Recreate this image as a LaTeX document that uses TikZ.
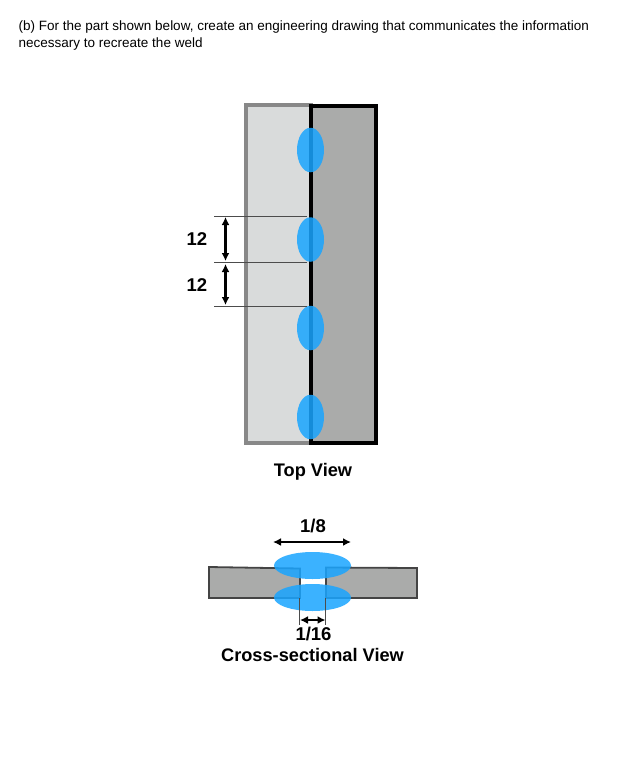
\documentclass[tikz,border=0pt]{standalone}
\usepackage{fontspec}
\setmainfont{Liberation Sans}
\usetikzlibrary{arrows.meta,shapes.geometric}
\definecolor{weldblue}{RGB}{25,165,255}
\definecolor{lightplate}{RGB}{217,219,219}
\definecolor{darkplate}{RGB}{170,171,170}
\definecolor{lightedge}{RGB}{136,136,136}
\definecolor{sectionedge}{RGB}{68,68,68}
\tikzset{
    weld/.style={ellipse,fill=weldblue,fill opacity=0.85,inner sep=0pt},
    dimline/.style={draw=black!70,line width=1pt},
    dimarrow/.style={{Latex[length=8pt,width=8pt]}-{Latex[length=8pt,width=8pt]},line width=2.4pt},
    dimlabel/.style={font=\fontsize{18.5}{20}\selectfont\bfseries},
    viewlabel/.style={font=\fontsize{18.2}{20}\selectfont\bfseries}
}
\begin{document}
\begin{tikzpicture}[x=1pt,y=-1pt]
        \useasboundingbox (0,0) rectangle (626,766);
        \node[anchor=north west,align=left,inner sep=0pt,font=\fontsize{13.5}{17}\selectfont] (question) at (18.5,20.5) {(b) For the part shown below, create an engineering drawing that communicates the information\\necessary to recreate the weld};
        % top view
        \draw[fill=lightplate,draw=lightedge,line width=4pt] (246,105) rectangle (311,442.5);
        \draw[fill=darkplate,draw=black,line width=4pt] (311,106) rectangle (376,442.5);
        \foreach \name/\ypos in {weldA/150,weldB/239.5,weldC/328,weldD/417}{
            \node[weld,minimum width=27pt,minimum height=44.5pt] (\name) at (310.5,\ypos) {};
        }
        \coordinate (tickA) at (214,216.5);
        \coordinate (tickB) at (214,262.3);
        \coordinate (tickC) at (214,306);
        \coordinate (tickAend) at (307,216.5);
        \coordinate (tickBend) at (307,262.3);
        \coordinate (tickCend) at (307,306);
        \draw[dimline] (tickA) -- (tickAend);
        \draw[dimline] (tickB) -- (tickBend);
        \draw[dimline] (tickC) -- (tickCend);
        \coordinate (arrowAtop) at (225.5,217);
        \coordinate (arrowAbot) at (225.5,261);
        \coordinate (arrowBtop) at (225.5,264);
        \coordinate (arrowBbot) at (225.5,305);
        \draw[dimarrow] (arrowAtop) -- (arrowAbot);
        \draw[dimarrow] (arrowBtop) -- (arrowBbot);
        \node[dimlabel] (pitchA) at (197,239) {12};
        \node[dimlabel] (pitchB) at (197,285) {12};
        \node[viewlabel] (topview) at (313,471.5) {Top View};
        % cross section
        \draw[fill=darkplate,draw=sectionedge,line width=1.8pt] (209,567) -- (300,568.5) -- (300,598) -- (209,598) -- cycle;
        \draw[fill=darkplate,draw=sectionedge,line width=1.8pt] (326,567.5) -- (417,568) -- (417,598) -- (326,598) -- cycle;
        \node[weld,minimum width=77pt,minimum height=27pt] (weldtop) at (312.5,565.5) {};
        \node[weld,minimum width=77pt,minimum height=27pt] (weldbot) at (312.5,597.5) {};
        \coordinate (capL) at (273,542);
        \coordinate (capR) at (351,542);
        \draw[dimarrow] (capL) -- (capR);
        \coordinate (gapLtop) at (299.5,598);
        \coordinate (gapLbot) at (299.5,625);
        \coordinate (gapRtop) at (325.5,598);
        \coordinate (gapRbot) at (325.5,625);
        \draw[dimline] (gapLtop) -- (gapLbot);
        \draw[dimline] (gapRtop) -- (gapRbot);
        \coordinate (gapL) at (300,620);
        \coordinate (gapR) at (325.5,620);
        \draw[dimarrow] (gapL) -- (gapR);
        \node[dimlabel] (capwidth) at (313,526) {1/8};
        \node[dimlabel] (gapwidth) at (313.5,634) {1/16};
        \node[viewlabel] (sectionview) at (312.5,655) {Cross-sectional View};
\end{tikzpicture}
\end{document}
